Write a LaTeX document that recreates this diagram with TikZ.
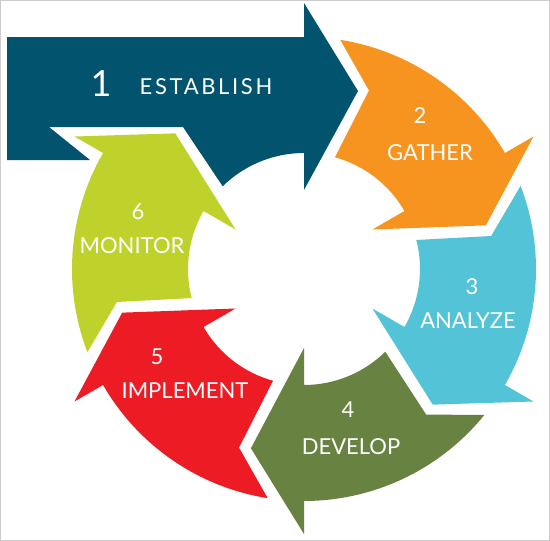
\documentclass[tikz,border=0pt]{standalone}
\usepackage{fontspec}
\setmainfont{Lato}
\newfontfamily\spacedfont[LetterSpace=12]{Lato}
\definecolor{cEst}{HTML}{02536D}
\definecolor{cGat}{HTML}{F7941F}
\definecolor{cAna}{HTML}{53C4D7}
\definecolor{cDev}{HTML}{688341}
\definecolor{cImp}{HTML}{ED1C24}
\definecolor{cMon}{HTML}{BFD22C}
\newcommand\ringarrow[2]{%
  \fill[#2] (#1:232) arc[start angle=#1, end angle=#1+51, radius=232]
    -- (#1+51:265) -- (#1+67.5:187) -- (#1+51:79) -- (#1+51:116)
    arc[start angle=#1+51, end angle=#1+6.5, radius=116]
    -- (#1+11:190) -- cycle;}
\begin{document}
\begin{tikzpicture}[x=1pt,y=-1pt,
  lbl/.style={text=white, font=\fontsize{22}{22}\selectfont, anchor=base, inner sep=0pt},
  bignum/.style={text=white, font=\fontsize{36}{36}\selectfont, anchor=base, inner sep=0pt}]
\useasboundingbox (0,0) rectangle (550,541);
\fill[white] (0,0) rectangle (550,541);
\draw[gray!40, line width=1pt] (0.5,0.5) rectangle (549.5,540.5);
% establish (straight arrow)
\fill[cEst] (7,37) -- (304,37) -- (304,3) -- (358,91) -- (304,190) -- (304,153)
  arc[start angle=270, end angle=225.5, radius=116]
  -- (183,127) -- (49,127) -- (90,160) -- (7,160) -- cycle;
\begin{scope}[shift={(304,269)}]
  \ringarrow{279}{cGat}
  \ringarrow{339}{cAna}
  \ringarrow{39}{cDev}
  \ringarrow{99}{cImp}
  \ringarrow{159}{cMon}
\end{scope}
\node[bignum] (n1) at (101,96) {1};
\node[lbl, font=\spacedfont\fontsize{22}{22}\selectfont] (t1) at (206,94) {ESTABLISH};
\node[lbl] (n2) at (420,123) {2};
\node[lbl] (t2) at (430,160) {GATHER};
\node[lbl] (n3) at (472,294) {3};
\node[lbl] (t3) at (468,328) {ANALYZE};
\node[lbl] (n4) at (348,417) {4};
\node[lbl] (t4) at (351,454) {DEVELOP};
\node[lbl] (n5) at (157,364) {5};
\node[lbl] (t5) at (185,398) {IMPLEMENT};
\node[lbl] (n6) at (138,219) {6};
\node[lbl] (t6) at (132,253) {MONITOR};
\end{tikzpicture}
\end{document}
